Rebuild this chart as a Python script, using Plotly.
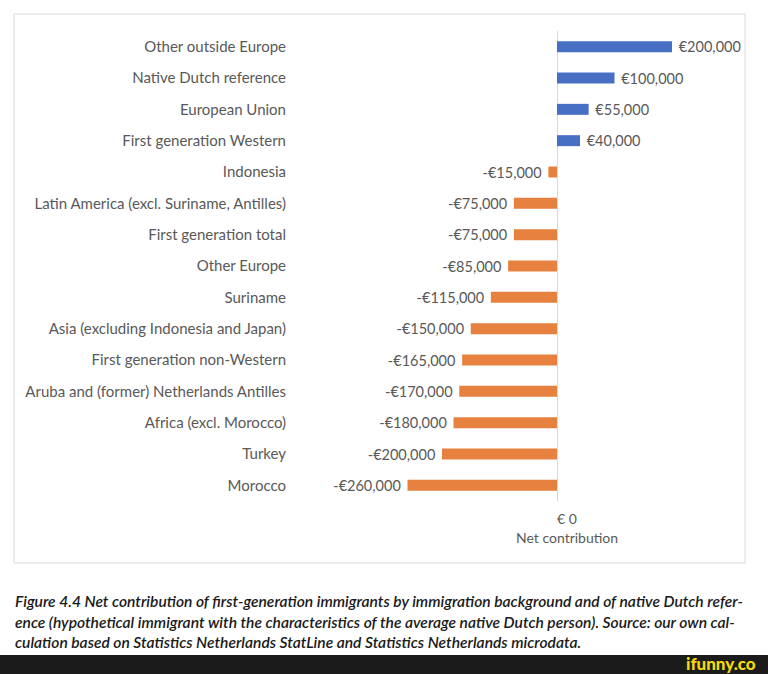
import plotly.graph_objects as go

categories = [
    "Other outside Europe",
    "Native Dutch reference",
    "European Union",
    "First generation Western",
    "Indonesia",
    "Latin America (excl. Suriname, Antilles)",
    "First generation total",
    "Other Europe",
    "Suriname",
    "Asia (excluding Indonesia and Japan)",
    "First generation non-Western",
    "Aruba and (former) Netherlands Antilles",
    "Africa (excl. Morocco)",
    "Turkey",
    "Morocco",
]
values = [200000, 100000, 55000, 40000, -15000, -75000, -75000, -85000,
          -115000, -150000, -165000, -170000, -180000, -200000, -260000]

caption_lines = [
    "Figure 4.4 Net contribution of first-generation immigrants by immigration background and of native Dutch refer-",
    "ence (hypothetical immigrant with the characteristics of the average native Dutch person). Source: our own cal-",
    "culation based on Statistics Netherlands StatLine and Statistics Netherlands microdata.",
]

BLUE = "#4770C4"
ORANGE = "#E6813F"
GRAY = "#595959"
FONT = "Lato, Open Sans, sans-serif"

W, H = 768, 674
L, R, T, B = 295, 28, 31, 173
PW, PH = W - L - R, H - T - B


def fx(px):
    return (px - L) / PW


def fy(py):
    return (H - B - py) / PH


def fmt(v):
    s = "€{:,}".format(abs(v))
    return "-" + s + "\u00a0" if v < 0 else "\u00a0" + s


colors = [BLUE if v >= 0 else ORANGE for v in values]
texts = [fmt(v) for v in values]

fig = go.Figure(go.Bar(
    y=categories, x=values, orientation="h",
    marker=dict(color=colors, line=dict(width=0)),
    width=0.35,
    text=texts, textposition="outside", constraintext="none",
    cliponaxis=False,
    textfont=dict(family=FONT, size=14.5, color=GRAY),
    hoverinfo="skip",
))

# x range derived from pixel layout: zero at x=557, 0.575 px per 1000
zero_px = 557
scale = 0.575 / 1000
xmin = -(zero_px - L) / scale
xmax = (L + PW - zero_px) / scale

fig.update_layout(
    width=W, height=H,
    margin=dict(l=L, r=R, t=T, b=B),
    paper_bgcolor="white", plot_bgcolor="white",
    showlegend=False,
    font=dict(family=FONT, size=14, color=GRAY),
    xaxis=dict(range=[xmin, xmax], showgrid=False, zeroline=True,
               zerolinecolor="#D9D9D9", zerolinewidth=1,
               tickvals=[0], ticktext=["€ 0"], ticks="", showline=False,
               ticklabelstandoff=8, ticklabelshift=10,
               tickfont=dict(size=14, color=GRAY)),
    yaxis=dict(autorange="reversed", showgrid=False, ticks="",
               showline=False, ticklabelstandoff=8,
               tickfont=dict(size=15, color=GRAY)),
    shapes=[
        dict(type="rect", xref="paper", yref="paper",
             x0=fx(14), x1=fx(745), y0=fy(563), y1=fy(14),
             line=dict(color="#D9D9D9", width=1), layer="below"),
        dict(type="rect", xref="paper", yref="paper",
             x0=fx(0), x1=fx(W), y0=fy(H), y1=fy(655),
             fillcolor="#1b1b1b", line=dict(width=0)),
    ],
)

fig.add_annotation(
    xref="paper", yref="paper", x=fx(567), y=fy(537),
    xanchor="center", yanchor="middle", showarrow=False,
    text="Net contribution", font=dict(family=FONT, size=14, color=GRAY),
)

for i, line in enumerate(caption_lines):
    fig.add_annotation(
        xref="paper", yref="paper", x=fx(13), y=fy(601 + i * 20.5),
        xanchor="left", yanchor="middle", showarrow=False, text=line,
        font=dict(family=FONT, size=15.6, color="#1a1a1a", style="italic",
                  weight=600),
    )

fig.add_annotation(
    xref="paper", yref="paper", x=fx(758), y=fy(663),
    xanchor="right", yanchor="middle", showarrow=False, text="ifunny.co",
    font=dict(family=FONT, size=17, color="#F5D90A", weight=900),
)

fig.write_html("out.html")
